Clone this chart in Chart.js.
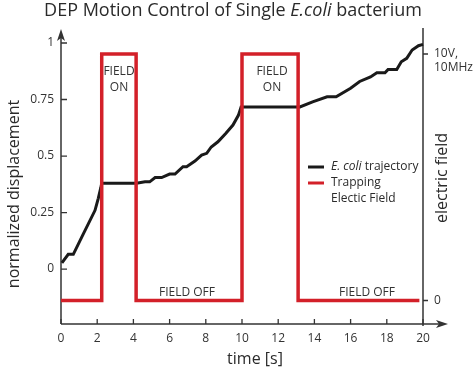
<!DOCTYPE html>
<html lang="en">
<head>
<meta charset="UTF-8">
<title>DEP Motion Control of Single E.coli bacterium</title>
<script src="https://cdn.jsdelivr.net/npm/chart.js"></script>
<style>
  html, body { margin: 0; padding: 0; background: #fff; }
  #wrap { width: 474px; height: 370px; }
</style>
</head>
<body>
<div id="wrap"><canvas id="depChart" width="474" height="370"></canvas></div>
<script>
// E. coli trajectory: time [s] vs normalized displacement
const trajTime = [0.05, 0.4, 0.68, 1.2, 1.88, 2.06, 2.2, 2.25, 4.17, 4.64, 4.9, 5.2, 5.56, 6.0, 6.3, 6.74, 6.94, 7.4, 7.77, 8.05, 8.3, 8.67, 9.1, 9.5, 9.8, 9.95, 13.2, 13.9, 14.7, 15.2, 16.0, 16.5, 17.1, 17.45, 17.9, 18.07, 18.55, 18.8, 19.1, 19.4, 19.75, 20.0];
const trajDisp = [0.027, 0.065, 0.065, 0.15, 0.26, 0.313, 0.36, 0.38, 0.38, 0.386, 0.386, 0.405, 0.405, 0.42, 0.42, 0.453, 0.453, 0.478, 0.504, 0.512, 0.54, 0.563, 0.6, 0.637, 0.68, 0.717, 0.717, 0.74, 0.762, 0.762, 0.8, 0.83, 0.85, 0.868, 0.868, 0.883, 0.883, 0.917, 0.932, 0.969, 0.988, 0.994];

// trapping electric field (V), switched on/off
const fieldTime = [0, 2.25, 2.25, 4.15, 4.15, 10.0, 10.0, 13.1, 13.1, 19.8];
const fieldVolt = [0, 0, 10, 10, 0, 0, 10, 10, 0, 0];

// tick labels
const timeTicks = [0, 2, 4, 6, 8, 10, 12, 14, 16, 18, 20];
const dispTicks = [0, 0.25, 0.5, 0.75, 1];
const dispTickLabels = ['0', '0.25', '0.5', '0.75', '1'];
const fieldTicks = [0, 10];
const fieldTickLabels = [['0'], ['10V,', '10MHz']];

const FONT = '"Open Sans", "DejaVu Sans", sans-serif';
const AXIS_COLOR = '#333';
const TEXT_COLOR = '#333';

function drawMixed(ctx, parts, x, y, align) {
    // parts: [text, italic, font]
    let total = 0;
    parts.forEach(p => {
        ctx.font = p[2];
        total += ctx.measureText(p[0]).width;
    });
    let cx = align === 'center' ? x - total / 2 : x;
    ctx.textAlign = 'left';
    parts.forEach(p => {
        ctx.font = p[2];
        ctx.fillText(p[0], cx, y);
        cx += ctx.measureText(p[0]).width;
    });
}

const decorPlugin = {
    id: 'decor',
    beforeDatasetsDraw(chart) {
        const ctx = chart.ctx;
        const xs = chart.scales.x, ys = chart.scales.y, fs = chart.scales.y2;
        const area = chart.chartArea;
        ctx.save();
        ctx.strokeStyle = AXIS_COLOR;
        ctx.fillStyle = AXIS_COLOR;
        ctx.lineWidth = 1.5;

        // left axis with arrow
        ctx.beginPath();
        ctx.moveTo(area.left, area.bottom);
        ctx.lineTo(area.left, 34);
        ctx.stroke();
        ctx.beginPath();
        ctx.moveTo(area.left, 29);
        ctx.lineTo(area.left - 4, 41);
        ctx.lineTo(area.left, 38);
        ctx.lineTo(area.left + 4, 41);
        ctx.closePath();
        ctx.fill();

        // bottom axis with arrow
        ctx.beginPath();
        ctx.moveTo(area.left, area.bottom);
        ctx.lineTo(442, area.bottom);
        ctx.stroke();
        ctx.beginPath();
        ctx.moveTo(448, area.bottom);
        ctx.lineTo(436, area.bottom - 4);
        ctx.lineTo(439, area.bottom);
        ctx.lineTo(436, area.bottom + 4);
        ctx.closePath();
        ctx.fill();

        // right axis
        ctx.beginPath();
        ctx.moveTo(area.right, area.bottom + 2);
        ctx.lineTo(area.right, 28);
        ctx.stroke();

        // ticks
        ctx.lineWidth = 1.3;
        ctx.beginPath();
        dispTicks.forEach(v => {
            const py = ys.getPixelForValue(v);
            ctx.moveTo(area.left, py);
            ctx.lineTo(area.left + 6, py);
        });
        timeTicks.forEach(v => {
            const px = xs.getPixelForValue(v);
            ctx.moveTo(px, area.bottom);
            ctx.lineTo(px, area.bottom - 5);
        });
        fieldTicks.forEach(v => {
            const py = fs.getPixelForValue(v);
            ctx.moveTo(area.right, py);
            ctx.lineTo(area.right + 5, py);
        });
        ctx.stroke();
        ctx.restore();
    },
    afterDraw(chart) {
        const ctx = chart.ctx;
        const fs = chart.scales.y2;
        const area = chart.chartArea;
        ctx.save();
        ctx.textBaseline = 'middle';

        // title
        ctx.fillStyle = '#2a2a2a';
        drawMixed(ctx, [
            ['DEP Motion Control of Single ', false, '18px ' + FONT],
            ['E.coli', true, 'italic 18px ' + FONT],
            [' bacterium', false, '18px ' + FONT]
        ], 233, 11, 'center');

        // right axis tick labels
        ctx.fillStyle = TEXT_COLOR;
        ctx.font = '12px ' + FONT;
        ctx.textAlign = 'left';
        fieldTicks.forEach((v, i) => {
            const py = fs.getPixelForValue(v);
            fieldTickLabels[i].forEach((line, j) => {
                ctx.fillText(line, area.right + 11, py + j * 14);
            });
        });

        // axis titles
        ctx.fillStyle = '#2a2a2a';
        ctx.font = '16px ' + FONT;
        ctx.textAlign = 'center';
        ctx.fillText('time [s]', 255, 359);
        ctx.save();
        ctx.translate(14, 194);
        ctx.rotate(-Math.PI / 2);
        ctx.fillText('normalized displacement', 0, 0);
        ctx.restore();
        ctx.save();
        ctx.translate(442, 178);
        ctx.rotate(-Math.PI / 2);
        ctx.fillText('electric field', 0, 0);
        ctx.restore();

        // field annotations
        ctx.fillStyle = TEXT_COLOR;
        ctx.font = '12px ' + FONT;
        ctx.fillText('FIELD', 119, 72);
        ctx.fillText('ON', 119, 88);
        ctx.fillText('FIELD', 272, 72);
        ctx.fillText('ON', 272, 88);
        ctx.fillText('FIELD OFF', 187, 293);
        ctx.fillText('FIELD OFF', 367, 293);

        // legend
        ctx.lineWidth = 3;
        ctx.strokeStyle = '#1a1a1a';
        ctx.beginPath();
        ctx.moveTo(308, 167);
        ctx.lineTo(324, 167);
        ctx.stroke();
        ctx.strokeStyle = '#d32029';
        ctx.beginPath();
        ctx.moveTo(308, 183);
        ctx.lineTo(324, 183);
        ctx.stroke();
        ctx.fillStyle = '#2a2a2a';
        drawMixed(ctx, [
            ['E. coli', true, 'italic 12px ' + FONT],
            [' trajectory', false, '12px ' + FONT]
        ], 331, 167, 'left');
        ctx.font = '12px ' + FONT;
        ctx.textAlign = 'left';
        ctx.fillText('Trapping', 331, 183);
        ctx.fillText('Electic Field', 331, 199);
        ctx.restore();
    }
};

const ctx = document.getElementById('depChart').getContext('2d');
const depChart = new Chart(ctx, {
    type: 'line',
    data: {
        datasets: [
            {
                label: 'Trapping Electic Field',
                data: fieldTime.map((t, i) => ({ x: t, y: fieldVolt[i] })),
                yAxisID: 'y2',
                borderColor: '#d32029',
                borderWidth: 3.5,
                pointRadius: 0,
                tension: 0,
                order: 0
            },
            {
                label: 'E. coli trajectory',
                data: trajTime.map((t, i) => ({ x: t, y: trajDisp[i] })),
                yAxisID: 'y',
                borderColor: '#1a1a1a',
                borderWidth: 3,
                pointRadius: 0,
                tension: 0,
                order: 1
            }
        ]
    },
    options: {
        responsive: false,
        animation: false,
        clip: false,
        layout: { padding: { top: 36, left: 0, right: 0, bottom: 0 } },
        plugins: {
            legend: { display: false },
            tooltip: { enabled: false }
        },
        scales: {
            x: {
                type: 'linear',
                min: 0,
                max: 20,
                afterBuildTicks: s => { s.ticks = timeTicks.map(v => ({ value: v })); },
                afterFit: s => { s.height = 46; },
                grid: { display: false, drawTicks: false },
                border: { display: false },
                ticks: { padding: 7, color: TEXT_COLOR, font: { family: FONT, size: 12 }, maxRotation: 0 }
            },
            y: {
                position: 'left',
                min: -0.243,
                max: 1.031,
                afterBuildTicks: s => { s.ticks = dispTicks.map(v => ({ value: v })); },
                afterFit: s => { s.width = 61; },
                grid: { display: false, drawTicks: false },
                border: { display: false },
                ticks: {
                    padding: 7,
                    color: TEXT_COLOR,
                    font: { family: FONT, size: 12 },
                    callback: (v) => dispTickLabels[dispTicks.indexOf(v)]
                }
            },
            y2: {
                position: 'right',
                min: -0.953,
                max: 10.73,
                afterBuildTicks: s => { s.ticks = fieldTicks.map(v => ({ value: v })); },
                afterFit: s => { s.width = 51; },
                grid: { display: false, drawTicks: false },
                border: { display: false },
                ticks: { display: false }
            }
        }
    },
    plugins: [decorPlugin]
});
</script>
</body>
</html>
